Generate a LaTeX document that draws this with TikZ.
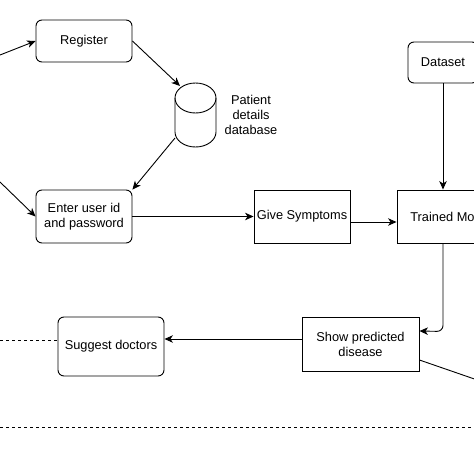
\documentclass[tikz,border=0pt]{standalone}
\usepackage{fontspec}
\setmainfont{Liberation Sans}
\usetikzlibrary{arrows.meta}
\tikzset{
  box/.style={draw,line width=0.9pt,font=\fontsize{12.8}{15}\selectfont,align=center,inner sep=2pt},
  rbox/.style={box,rounded corners=6pt},
  flow/.style={line width=0.9pt,-{Stealth[length=8.5pt,width=7.5pt,inset=2.5pt]}},
  dline/.style={line width=0.9pt,dash pattern=on 3pt off 3pt}
}
\begin{document}
\begin{tikzpicture}[x=1pt,y=-1pt]
  % picture frame 474 x 474, y counted downwards
  \useasboundingbox (0,0) rectangle (474,474);
  \clip (0,0) rectangle (474,474);
  \node[rbox,minimum width=96pt,minimum height=42pt] (reg) at (84,41) {Register};
  \node[rbox,minimum width=96pt,minimum height=53pt] (login) at (84,216.5) {Enter user id\\and password};
  \node[box,minimum width=96pt,minimum height=53pt] (sym) at (302,216.5) {Give Symptoms};
  \node[box,minimum width=108pt,minimum height=53pt] (model) at (451,216.5) {Trained Model};
  \node[rbox,minimum width=70pt,minimum height=41pt] (data) at (443,62.5) {Dataset};
  \node[box,minimum width=117pt,minimum height=54pt] (show) at (360.5,344) {Show predicted\\disease};
  \node[rbox,minimum width=106pt,minimum height=59pt] (sugg) at (111,346.5) {Suggest doctors};
  % database cylinder
  \draw[line width=0.9pt] (195.5,98) ellipse[x radius=20.5,y radius=15];
  \draw[line width=0.9pt] (175,98) -- (175,132) arc[start angle=180,end angle=0,x radius=20.5,y radius=15] -- (216,98);
  \node[font=\fontsize{12.8}{15}\selectfont,align=center] (dblabel) at (251,115) {Patient\\details\\database};
  \coordinate (dbin) at (180,86);
  \coordinate (dbout) at (175,138);
  % loose ends at the frame
  \coordinate (inA) at (0,55);
  \coordinate (inB) at (0,182);
  \coordinate (outA) at (0,340);
  \coordinate (outB) at (486,383);
  \coordinate (sepL) at (0,427);
  \coordinate (sepR) at (474,427);
  \draw[flow] (inA) -- (reg.west);
  \draw[flow] (inB) -- (login.west);
  \draw[flow] (reg.east) -- (dbin);
  \draw[flow] (dbout) -- (login.north east);
  \draw[flow] (login.east) -- (sym.west);
  \draw[flow] ([yshift=-5.5pt]sym.east) -- ([yshift=-5.5pt]sym.east -| model.west);
  \draw[flow] (data.south) -- (data.south |- model.north);
  \draw[flow,rounded corners=6pt] (data.south |- model.south) -- ++(0,88) -- ([yshift=13pt]show.east);
  \draw[flow] ([yshift=5pt]show.west) -- ([yshift=5pt]show.west -| sugg.east);
  \draw[line width=0.9pt] ([yshift=-16pt]show.east) -- (outB);
  \draw[dline] (outA) -- (outA -| sugg.west);
  \draw[dline] (sepL) -- (sepR);
\end{tikzpicture}
\end{document}
